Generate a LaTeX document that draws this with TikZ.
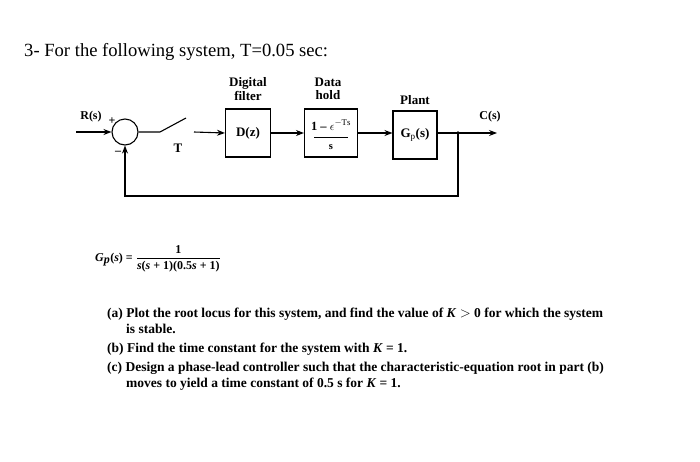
\documentclass[tikz,border=0pt]{standalone}
\usepackage{fontspec}
\setmainfont{Liberation Serif}
\usetikzlibrary{arrows.meta}
\begin{document}
\begin{tikzpicture}[x=1pt,y=-1pt,
 blk/.style={draw,line width=1.1pt,minimum width=45pt,minimum height=48pt,inner sep=0pt,font=\fontsize{13}{14}\selectfont\bfseries},
 lbl/.style={font=\fontsize{13}{13.5}\selectfont\bfseries,align=center},
 sig/.style={line width=1.1pt,-{Stealth[length=8pt,width=6pt]}},
 ln/.style={line width=1.1pt},
 q/.style={anchor=base west,inner sep=0pt,font=\fontsize{13.5}{15}\selectfont\bfseries}]
\useasboundingbox (0,0) rectangle (700,461);
\node[anchor=west,font=\fontsize{18.6}{22}\selectfont,inner sep=0pt] (title) at (24,52) {3- For the following system, T=0.05 sec:};
\node[draw,line width=1.1pt,circle,minimum size=26pt,inner sep=0pt] (sum) at (125,132) {};
\coordinate (in) at (76,132);
\node[font=\fontsize{12}{12}\selectfont\bfseries] (R) at (91,117) {R(s)};
\node[font=\fontsize{12}{12}\selectfont\bfseries] (plus) at (112,121) {+};
\node[font=\fontsize{12}{12}\selectfont\bfseries] (minus) at (118,153) {--};
\draw[sig] (in) -- (sum);
\coordinate (s1) at (160,132);
\coordinate (s2) at (186,118);
\draw[ln] (sum) -- (s1) -- (s2);
\node[font=\fontsize{13}{13}\selectfont\bfseries] (T) at (178,148) {T};
\coordinate (s3) at (194,132);
\node[blk] (D) at (248,133) {D(z)};
\node[blk,minimum width=53pt] (H) at (331,133) {};
\node[blk,minimum width=44pt] (P) at (415,135) {G$_\mathrm{p}$(s)};
\node[font=\fontsize{12.5}{13}\selectfont\bfseries] (Hn) at (331,125) {1 -- $\epsilon^{-\mathrm{Ts}}$};
\node[font=\fontsize{10.5}{10}\selectfont\bfseries] (Hd) at (331,147) {s};
\draw[thick] (314,137) -- (348,137);
\node[lbl] (dl) at (248,89) {Digital\\filter};
\node[lbl] (hl) at (328,89) {Data\\hold};
\node[lbl] (pl) at (415,100) {Plant};
\draw[sig] (s3) -- (D.west);
\draw[sig] (D.east) -- (H.west|-D.east);
\draw[sig] (H.east) -- (P.west|-H.east);
\coordinate (br) at (458,133);
\coordinate (out) at (497,133);
\draw[ln] (P.east|-br) -- (br);
\fill (br) circle (1.8pt);
\draw[sig] (br) -- (out);
\node[font=\fontsize{12}{12}\selectfont\bfseries] (C) at (490,117) {C(s)};
\coordinate (f1) at (458,196);
\coordinate (f2) at (125,196);
\draw[sig] (br) -- (f1) -- (f2) -- (sum);
\node[font=\fontsize{12}{13}\selectfont\bfseries] (Gp) at (158,259) {\textit{G}$_{\textit{p}}$(\textit{s}) = $\displaystyle\frac{\mbox{1}}{\mbox{\textit{s}(\textit{s} + 1)(0.5\textit{s} + 1)}}$};
\node[q] (qa) at (107,317) {(a) Plot the root locus for this system, and find the value of \textit{K} $>$ 0 for which the system};
\node[q] (qa2) at (126,333) {is stable.};
\node[q] (qb) at (107,352) {(b) Find the time constant for the system with \textit{K} = 1.};
\node[q] (qc) at (107,371) {(c) Design a phase-lead controller such that the characteristic-equation root in part (b)};
\node[q] (qc2) at (126,387) {moves to yield a time constant of 0.5 s for \textit{K} = 1.};
\end{tikzpicture}
\end{document}
